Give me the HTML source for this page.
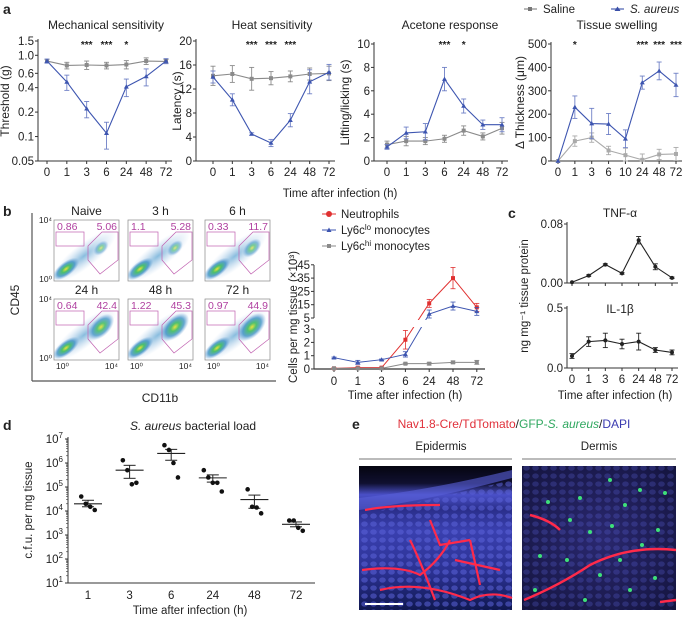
<!DOCTYPE html>
<html><head><meta charset="utf-8">
<style>
html,body{margin:0;padding:0;background:#fff;}
svg{display:block;font-family:"Liberation Sans",sans-serif;}
text{fill:#222;}
</style></head>
<body>
<svg id="fig" width="685" height="619" viewBox="0 0 685 619" xmlns="http://www.w3.org/2000/svg">
<defs>
 <radialGradient id="flow" cx="50%" cy="50%" r="50%">
  <stop offset="0" stop-color="#e8e23a"/><stop offset="0.3" stop-color="#4cc06a"/><stop offset="0.65" stop-color="#3a8fc4" stop-opacity="0.8"/><stop offset="1" stop-color="#6aa0d8" stop-opacity="0"/>
 </radialGradient>
 <radialGradient id="flowb" cx="50%" cy="50%" r="50%">
  <stop offset="0" stop-color="#3a90c8" stop-opacity="0.6"/><stop offset="1" stop-color="#8ab4e0" stop-opacity="0"/>
 </radialGradient>
 <linearGradient id="epi" x1="0" y1="0" x2="0" y2="1">
  <stop offset="0" stop-color="#050510"/><stop offset="0.12" stop-color="#101030"/><stop offset="0.2" stop-color="#4a50c8"/><stop offset="0.3" stop-color="#2a2e8a"/><stop offset="0.45" stop-color="#3a40b0"/><stop offset="0.75" stop-color="#2a3090"/><stop offset="1" stop-color="#101850"/>
 </linearGradient>
 <radialGradient id="derm" cx="50%" cy="50%" r="70%">
  <stop offset="0" stop-color="#2a2870"/><stop offset="1" stop-color="#14143e"/>
 </radialGradient>
 <pattern id="cells" width="9" height="8" patternUnits="userSpaceOnUse">
  <ellipse cx="4.5" cy="4" rx="3.3" ry="2.6" fill="#5a62d8" opacity="0.55"/>
 </pattern>
</defs>

<text x="3" y="14" font-size="14" font-weight="bold">a</text>
<text x="3" y="216" font-size="14" font-weight="bold">b</text>
<text x="508" y="218" font-size="14" font-weight="bold">c</text>
<text x="3" y="430" font-size="14" font-weight="bold">d</text>
<text x="352" y="429" font-size="14" font-weight="bold">e</text>

<g>
 <g><line x1="524" y1="9" x2="537" y2="9" stroke="#888" stroke-width="1.2"/><rect x="528" y="7" width="4" height="4" fill="#777"/><text x="543" y="13" font-size="11.5">Saline</text></g>
 <g><line x1="611" y1="9" x2="624" y2="9" stroke="#4a5fb0" stroke-width="1.2"/><polygon points="617.5,6.5 620.5,11 614.5,11" fill="#3a4fa8"/><text x="630" y="13" font-size="11.5" font-style="italic">S. aureus</text></g>
</g>
<text x="340" y="197" font-size="11.5" text-anchor="middle">Time  after infection (h)</text>

<g id="gA"></g>
<g id="gB"></g>
<g id="gC"></g>
<g id="gD"></g>
<g id="gE"></g>
</svg>

<script>
// ---------- DATA ----------
const aCats = ["0","1","3","6","24","48","72"];
const mechSaline = [0.85,0.75,0.76,0.75,0.77,0.85,0.84];
const mechSalineErr = [0.04,0.07,0.09,0.07,0.09,0.08,0.05];
const mechAureus = [0.85,0.47,0.22,0.11,0.41,0.55,0.85];
const mechAureusErr = [0.05,0.1,0.05,0.04,0.1,0.13,0.06];
const mechTicks = [0.05,0.1,0.2,0.4,0.6,1.0,1.5];
const mechTickLabels = ["0.05","0.1","0.2","0.4","0.6","1.0","1.5"];
const mechStars = ["","","***","***","*","",""];

const heatSaline = [14.2,14.5,13.7,13.8,14.1,14.5,14.6];
const heatSalineErr = [1.6,1.4,1.9,1.1,0.9,1.0,1.2];
const heatAureus = [14.0,10.2,4.5,3.0,6.8,13.2,14.8];
const heatAureusErr = [1.0,1.0,0.2,0.6,1.1,2.0,1.3];
const heatTicks = [0,4,8,12,16,20];
const heatStars = ["","","***","***","***","",""];

const aceSaline = [1.4,1.7,1.7,1.9,2.6,2.1,2.8];
const aceSalineErr = [0.3,0.4,0.3,0.3,0.4,0.3,0.5];
const aceAureus = [1.2,2.4,2.5,7.0,4.7,3.1,3.1];
const aceAureusErr = [0.2,0.5,0.7,1.0,0.6,0.4,0.6];
const aceTicks = [0,2,4,6,8,10];
const aceStars = ["","","","***","*","",""];

const swCats = ["0","1","3","6","10","24","48","72"];
const swSaline = [0,85,100,45,25,5,28,30];
const swSalineErr = [0,22,20,18,30,25,22,28];
const swAureus = [0,230,160,158,95,335,385,325];
const swAureusErr = [0,48,65,45,38,28,38,50];
const swTicks = [0,100,200,300,400,500];
const swStars = ["","*","","","","***","***","***"];

const bCats = ["0","1","3","6","24","48","72"];
const neutro = [0.05,0.1,0.1,2.2,16,35,13];
const neutroErr = [0.05,0.05,0.05,0.7,3,8,3];
const ly6lo = [0.85,0.5,0.7,1.1,8,14,10];
const ly6loErr = [0.05,0.15,0.05,0.2,3,3,3];
const ly6hi = [0.05,0.05,0.05,0.4,0.4,0.5,0.5];
const ly6hiErr = [0,0,0,0.05,0.1,0.1,0.15];
const bLowTicks = [0,1,2,3];
const bHighTicks = [5,15,25,35,45];
const flowTitles = ["Naive","3 h","6 h","24 h","48 h","72 h"];
const flowLeft = ["0.86","1.1","0.33","0.64","1.22","0.97"];
const flowRight = ["5.06","5.28","11.7","42.4","45.3","44.9"];

const cCats = ["0","1","3","6","24","48","72"];
const tnf = [0.001,0.01,0.025,0.013,0.058,0.022,0.007];
const tnfErr = [0,0.001,0.001,0.001,0.005,0.004,0.001];
const il1b = [0.1,0.22,0.23,0.2,0.22,0.15,0.13];
const il1bErr = [0.02,0.04,0.06,0.04,0.07,0.02,0.02];

const dCats = ["1","3","6","24","48","72"];
const dPoints = [[4e4,2e4,1.5e4,1.1e4],[1.3e6,5e5,1.3e5,1.5e5],[5.5e6,3.5e6,1e6,2.5e5],[5e5,2.5e5,1.5e5,1.5e5,6.5e4],[8e4,1.5e4,1.4e4,8e3],[4e3,4e3,2e3,1.5e3]];
const dMean = [2e4,5e5,2.5e6,2.4e5,3e4,2.8e3];
const dSemLo = [1.5e4,2.3e5,1.3e6,1.6e5,1.3e4,2.2e3];
const dSemHi = [2.8e4,8e5,3.7e6,3.2e5,4.6e4,3.5e3];
const dExp = [1,2,3,4,5,6,7];

// ---------- HELPERS ----------
const NS="http://www.w3.org/2000/svg";
function mk(tag, attrs, parent, txt){
  const e=document.createElementNS(NS,tag);
  for(const k in attrs) e.setAttribute(k,attrs[k]);
  if(txt!==undefined) e.textContent=txt;
  parent.appendChild(e); return e;
}
const SAL="#8a8a8a", AUR="#3d55b0";

function lineChart(g, o){
  const xs = i => o.x0 + (o.x1-o.x0)*i/(o.cats.length-1);
  const ax = mk('line',{x1:o.ax,y1:o.yTop-2,x2:o.ax,y2:o.yBot,stroke:'#333','stroke-width':1},g);
  
  
  const bx = mk('line',{x1:o.ax,y1:o.yBot,x2:o.x1+6,y2:o.yBot,stroke:'#333','stroke-width':1},g);
  
  
  o.ticks.forEach((t,i)=>{
    const y=o.yf(t);
    mk('line',{x1:o.ax-3,y1:y,x2:o.ax,y2:y,stroke:'#333'},g);
    const tl=mk('text',{x:o.ax-4,y:y+4,'font-size':o.fs||11.5,'text-anchor':'end'},g,o.tickLabels?o.tickLabels[i]:String(t));
    
    
  });
  o.cats.forEach((c,i)=>{
    const x=xs(i);
    mk('line',{x1:x,y1:o.yBot,x2:x,y2:o.yBot+3,stroke:'#333'},g);
    const tl=mk('text',{x:x,y:o.yBot+(o.tickDy||15),'font-size':o.fs||11.5,'text-anchor':'middle'},g,c);
    
    
  });
  o.series.forEach(s=>{
    const pts=s.v.map((v,i)=>xs(i)+','+o.yf(v)).join(' ');
    const pl=mk('polyline',{points:pts,fill:'none',stroke:s.c,'stroke-width':1.1},g);
    
    
    s.v.forEach((v,i)=>{
      const x=xs(i);
      if(s.e && s.e[i]>0){
        const y1=o.yf(v+s.e[i]), y2=o.yf(Math.max(v-s.e[i], o.minV||0));
        mk('line',{x1:x,y1:y1,x2:x,y2:y2,stroke:s.ec||s.c,'stroke-width':0.9},g);
        mk('line',{x1:x-2.5,y1:y1,x2:x+2.5,y2:y1,stroke:s.ec||s.c,'stroke-width':0.9},g);
        mk('line',{x1:x-2.5,y1:y2,x2:x+2.5,y2:y2,stroke:s.ec||s.c,'stroke-width':0.9},g);
      }
      const y=o.yf(v);
      let m;
      if(s.m==='tri') m=mk('polygon',{points:`${x},${y-2.5} ${x+2.5},${y+1.8} ${x-2.5},${y+1.8}`,fill:s.c},g);
      else if(s.m==='circ') m=mk('circle',{cx:x,cy:y,r:2,fill:s.c},g);
      else m=mk('rect',{x:x-2,y:y-2,width:4,height:4,fill:s.c},g);
      
      
    });
  });
  if(o.stars) o.stars.forEach((s,i)=>{ if(s){const t=mk('text',{x:xs(i),y:o.starY,'font-size':10,'text-anchor':'middle','font-weight':'bold'},g,s);
    
    }});
  if(o.title){const t=mk('text',{x:o.tx,y:o.ty||29,'font-size':12,'text-anchor':'middle'},g,o.title);
    
    }
  if(o.ylabel){const cy=(o.yTop+o.yBot)/2;const t=mk('text',{x:o.lx,y:cy,'font-size':o.lfs||12,'text-anchor':'middle',transform:`rotate(-90 ${o.lx} ${cy})`},g,o.ylabel);
    
    }
  return xs;
}

// ---------- PANEL A ----------
const gA=document.getElementById('gA');
const logY=(v)=>161-120*Math.log(v/0.05)/Math.log(1.5/0.05);
lineChart(gA,{name:'mechanical',x0:47,x1:166,yTop:41,yBot:161,ax:38,ticks:mechTicks,tickLabels:mechTickLabels,yf:logY,minV:0.05,
  cats:aCats,stars:mechStars,starY:48,title:'Mechanical sensitivity',tx:106,ylabel:'Threshold (g)',lx:9,
  series:[{n:'saline',v:mechSaline,e:mechSalineErr,c:SAL},{n:'aureus',v:mechAureus,e:mechAureusErr,c:AUR,m:'tri',ec:'#6f80c6'}]});
lineChart(gA,{name:'heat',x0:213,x1:329,yTop:41,yBot:161,ax:196,ticks:heatTicks,yf:v=>161-120*v/20,
  cats:aCats,stars:heatStars,starY:48,title:'Heat sensitivity',tx:272,ylabel:'Latency (s)',lx:181,
  series:[{n:'saline',v:heatSaline,e:heatSalineErr,c:SAL},{n:'aureus',v:heatAureus,e:heatAureusErr,c:AUR,m:'tri',ec:'#6f80c6'}]});
lineChart(gA,{name:'acetone',x0:387,x1:502,yTop:44,yBot:161,ax:374,ticks:aceTicks,yf:v=>161-117*v/10,
  cats:aCats,stars:aceStars,starY:48,title:'Acetone response',tx:450,ylabel:'Lifting/licking (s)',lx:349,
  series:[{n:'saline',v:aceSaline,e:aceSalineErr,c:SAL},{n:'aureus',v:aceAureus,e:aceAureusErr,c:AUR,m:'tri',ec:'#6f80c6'}]});
lineChart(gA,{name:'swelling',x0:558,x1:676,yTop:44,yBot:161,ax:551,ticks:swTicks,yf:v=>161-117*v/500,
  cats:swCats,stars:swStars,starY:48,title:'Tissue swelling',tx:617,ylabel:'Δ Thickness (μm)',lx:524,
  series:[{n:'saline',v:swSaline,e:swSalineErr,c:'#aaa'},{n:'aureus',v:swAureus,e:swAureusErr,c:AUR,m:'tri',ec:'#6f80c6'}]});

// ---------- PANEL B (flow) ----------
const gB=document.getElementById('gB');
mk('line',{x1:32,y1:213,x2:32,y2:381,stroke:'#555','stroke-width':1.2},gB);
mk('line',{x1:32,y1:381,x2:276,y2:381,stroke:'#555','stroke-width':1.2},gB);
mk('text',{x:19,y:300,'font-size':12,'text-anchor':'middle',transform:'rotate(-90 19 300)'},gB,'CD45');
mk('text',{x:160,y:402,'font-size':12,'text-anchor':'middle'},gB,'CD11b');
const fx=[54,128,205], fy=[220,299], fw=65, fh=61;
const spread=[0.25,0.3,0.45,0.85,0.95,0.95];
for(let k=0;k<6;k++){
  const c=k%3, r=Math.floor(k/3), x=fx[c], y=fy[r];
  const fg=mk('g',{},gB);
  
  
  mk('text',{x:x+fw/2,y:y-5,'font-size':12,'text-anchor':'middle'},fg,flowTitles[k]);
  mk('rect',{x:x,y:y,width:fw,height:fh,fill:'#fff',stroke:'#888','stroke-width':0.7},fg);
  const cp='cp'+k;
  const cl=mk('clipPath',{id:cp},fg); mk('rect',{x:x,y:y,width:fw,height:fh},cl);
  const inner=mk('g',{'clip-path':`url(#${cp})`},fg);
  const s=spread[k];
  mk('ellipse',{cx:x+30,cy:y+36,rx:40,ry:12,fill:'url(#flowb)',transform:`rotate(-38 ${x+30} ${y+36})`},inner);
  mk('ellipse',{cx:x+12,cy:y+fh-12,rx:16,ry:7,fill:'url(#flow)',transform:`rotate(-38 ${x+12} ${y+fh-12})`},inner);
  mk('ellipse',{cx:x+47,cy:y+28,rx:6+12*s,ry:4+6*s,fill:'url(#flow)','opacity':0.45+0.55*s,transform:`rotate(-45 ${x+47} ${y+28})`},inner);
  mk('rect',{x:x+2,y:y+12,width:28,height:14,fill:'none',stroke:'#c060b0','stroke-width':0.7},fg);
  mk('polygon',{points:`${x+34},${y+26} ${x+48},${y+12} ${x+64},${y+12} ${x+64},${y+40} ${x+46},${y+54} ${x+34},${y+40}`,fill:'none',stroke:'#c060b0','stroke-width':0.7},fg);
  mk('text',{x:x+3,y:y+10,'font-size':10.5,style:'fill:#b040a0'},fg,flowLeft[k]);
  mk('text',{x:x+fw-2,y:y+10,'font-size':10.5,'text-anchor':'end',style:'fill:#b040a0'},fg,flowRight[k]);
  if(c===0){
    mk('text',{x:x-2,y:y+3,'font-size':8.5,'text-anchor':'end'},fg,'10⁴');
    mk('text',{x:x-2,y:y+fh+1,'font-size':8.5,'text-anchor':'end'},fg,'10⁰');
  }
  if(r===1){
    mk('text',{x:x+2,y:y+fh+9,'font-size':8.5},fg,'10⁰');
    mk('text',{x:x+fw-1,y:y+fh+9,'font-size':8.5,'text-anchor':'end'},fg,'10⁴');
  }
}

// ---------- PANEL B (cells chart) ----------
function bY(v){ return v<=3 ? 369-13.3*v : (v<5 ? 329-(v-3)*5 : 318-(v-5)*1.33); }
const gB2=mk('g',{},gB);


const bxs=i=>334+23.8*i;
mk('line',{x1:314,y1:329,x2:314,y2:369,stroke:'#333'},gB2);
mk('line',{x1:314,y1:265,x2:314,y2:318,stroke:'#333'},gB2);
mk('line',{x1:314,y1:369,x2:485,y2:369,stroke:'#333','stroke-width':1.2},gB2);
bLowTicks.forEach(t=>{const y=bY(t);mk('line',{x1:311,y1:y,x2:314,y2:y,stroke:'#333'},gB2);
  const tl=mk('text',{x:310,y:y+4,'font-size':11.5,'text-anchor':'end'},gB2,String(t));
  
  });
bHighTicks.forEach(t=>{const y=bY(t);mk('line',{x1:311,y1:y,x2:314,y2:y,stroke:'#333'},gB2);
  const tl=mk('text',{x:310,y:y+4,'font-size':11.5,'text-anchor':'end'},gB2,String(t));
  
  });
bCats.forEach((c,i)=>{const x=bxs(i);mk('line',{x1:x,y1:369,x2:x,y2:372,stroke:'#333'},gB2);
  const tl=mk('text',{x:x,y:385,'font-size':11.5,'text-anchor':'middle'},gB2,c);
  
  });
mk('text',{x:297,y:317,'font-size':11.5,'text-anchor':'middle',transform:'rotate(-90 297 317)'},gB2,'Cells per mg tissue (×10³)');
mk('text',{x:405,y:399,'font-size':11.5,'text-anchor':'middle'},gB2,'Time after infection (h)');
const bSeries=[{n:'neutrophils',v:neutro,e:neutroErr,c:'#e03030',m:'sq'},{n:'ly6c-lo',v:ly6lo,e:ly6loErr,c:'#3d55b0',m:'tri'},{n:'ly6c-hi',v:ly6hi,e:ly6hiErr,c:'#8a8a8a',m:'sq'}];
bSeries.forEach(s=>{
  const pl=mk('polyline',{points:s.v.map((v,i)=>bxs(i)+','+bY(v)).join(' '),fill:'none',stroke:s.c,'stroke-width':1},gB2);
  
  
  s.v.forEach((v,i)=>{const x=bxs(i),y=bY(v);
    if(s.e[i]>0.04){const y1=bY(v+s.e[i]),y2=bY(Math.max(0,v-s.e[i]));
      mk('line',{x1:x,y1:y1,x2:x,y2:y2,stroke:s.c,'stroke-width':0.8},gB2);
      mk('line',{x1:x-2.5,y1:y1,x2:x+2.5,y2:y1,stroke:s.c,'stroke-width':0.8},gB2);
      mk('line',{x1:x-2.5,y1:y2,x2:x+2.5,y2:y2,stroke:s.c,'stroke-width':0.8},gB2);}
    const m = s.m==='tri'? mk('polygon',{points:`${x},${y-2.5} ${x+2.5},${y+1.8} ${x-2.5},${y+1.8}`,fill:s.c},gB2) : mk('rect',{x:x-2,y:y-2,width:4,height:4,fill:s.c},gB2);
    
    
  });
});
mk('rect',{x:315,y:320,width:170,height:7,fill:'#fff'},gB2);
const bLeg=[["Neutrophils","#e03030","circ"],["Ly6c","#3d55b0","tri","lo"],["Ly6c","#8a8a8a","sq","hi"]];
bLeg.forEach((l,i)=>{const y=214+16*i;
  const lg=mk('g',{},gB2);
  
  
  mk('line',{x1:322,y1:y,x2:336,y2:y,stroke:l[1]},lg);
  if(l[2]==='circ') mk('circle',{cx:329,cy:y,r:3,fill:l[1]},lg);
  else if(l[2]==='tri') mk('polygon',{points:`329,${y-2.5} 331.5,${y+2} 326.5,${y+2}`,fill:l[1]},lg);
  else mk('rect',{x:327,y:y-2,width:4,height:4,fill:l[1]},lg);
  const t=mk('text',{x:341,y:y+4,'font-size':11.5},lg,l[0]);
  if(l[3]){mk('tspan',{dy:-4,'font-size':8},t,l[3]);mk('tspan',{dy:4,'font-size':11.5},t,' monocytes');}
});

// ---------- PANEL C ----------
const gC=document.getElementById('gC');
lineChart(gC,{name:'tnf',x0:572,x1:672,yTop:224,yBot:283,ax:567,ticks:[0,0.08],tickLabels:['0.00','0.08'],yf:v=>283-59*v/0.08,
  cats:cCats,tickDy:-1000,title:'TNF-α',tx:620,ty:217,fs:11.5,
  series:[{n:'tnf',v:tnf,e:tnfErr,c:'#222',m:'circ'}]});
lineChart(gC,{name:'il1b',x0:572,x1:672,yTop:308,yBot:368,ax:567,ticks:[0,0.5],tickLabels:['0.0','0.5'],yf:v=>368-60*v/0.5,
  cats:cCats,title:'IL-1β',tx:620,ty:313,fs:11.5,tickDy:15,
  series:[{n:'il1b',v:il1b,e:il1bErr,c:'#222',m:'circ'}]});
mk('text',{x:528,y:296,'font-size':11.5,'text-anchor':'middle',transform:'rotate(-90 528 296)'},gC,'ng mg⁻¹ tissue protein');
mk('text',{x:615,y:399,'font-size':11.5,'text-anchor':'middle'},gC,'Time after infection (h)');

// ---------- PANEL D ----------
const gD=document.getElementById('gD');
const dY=v=>583-144*(Math.log10(v)-1)/6;
const dxs=i=>88+41.6*i;
mk('line',{x1:68,y1:437,x2:68,y2:583,stroke:'#333'},gD);
mk('line',{x1:68,y1:583,x2:315,y2:583,stroke:'#333'},gD);
dExp.forEach(e=>{const y=dY(Math.pow(10,e));mk('line',{x1:65,y1:y,x2:68,y2:y,stroke:'#333'},gD);
  const t=mk('text',{x:63,y:y+4,'font-size':11.5,'text-anchor':'end'},gD,'10');
  mk('tspan',{dy:-5,'font-size':8},t,String(e));
  
  
  if(e<7) for(let m=2;m<10;m++){const yy=dY(m*Math.pow(10,e));mk('line',{x1:66,y1:yy,x2:68,y2:yy,stroke:'#333','stroke-width':0.6},gD);}
});
dCats.forEach((c,i)=>{const x=dxs(i);
  const t=mk('text',{x:x,y:599,'font-size':11.5,'text-anchor':'middle'},gD,c);
  
  
  const m=dY(dMean[i]);
  mk('line',{x1:x-14,y1:m,x2:x+14,y2:m,stroke:'#222','stroke-width':1.1},gD);
  const h=dY(dSemHi[i]),l=dY(dSemLo[i]);
  mk('line',{x1:x,y1:h,x2:x,y2:l,stroke:'#222'},gD);
  mk('line',{x1:x-6,y1:h,x2:x+6,y2:h,stroke:'#222'},gD);
  mk('line',{x1:x-6,y1:l,x2:x+6,y2:l,stroke:'#222'},gD);
  const n=dPoints[i].length;
  dPoints[i].forEach((v,j)=>{const off=(j-(n-1)/2)*4.5;
    const p=mk('circle',{cx:x+off,cy:dY(v),r:2.3,fill:'#111'},gD);
    
    });
});
const dt=mk('text',{x:193,y:430,'font-size':12,'text-anchor':'middle'},gD);
mk('tspan',{'font-style':'italic'},dt,'S. aureus');mk('tspan',{},dt,' bacterial load');
mk('text',{x:32,y:510,'font-size':11.5,'text-anchor':'middle',transform:'rotate(-90 32 510)'},gD,'c.f.u. per mg tissue');
mk('text',{x:190,y:614,'font-size':11.5,'text-anchor':'middle'},gD,'Time after infection (h)');

// ---------- PANEL E ----------
const gE=document.getElementById('gE');
const et=mk('text',{x:514,y:428,'font-size':12,'text-anchor':'middle'},gE);


mk('tspan',{style:'fill:#e0303a'},et,'Nav1.8-Cre/TdTomato');
mk('tspan',{},et,'/');
mk('tspan',{style:'fill:#30a860'},et,'GFP-');
mk('tspan',{style:'fill:#30a860','font-style':'italic'},et,'S. aureus');
mk('tspan',{},et,'/');
mk('tspan',{style:'fill:#3a3ab0'},et,'DAPI');
mk('text',{x:441,y:450,'font-size':11.5,'text-anchor':'middle'},gE,'Epidermis');
mk('text',{x:599,y:450,'font-size':11.5,'text-anchor':'middle'},gE,'Dermis');
mk('line',{x1:359,y1:459,x2:512,y2:459,stroke:'#777'},gE);
mk('line',{x1:522,y1:459,x2:676,y2:459,stroke:'#777'},gE);
const ep=mk('g',{},gE);


mk('rect',{x:359,y:466,width:153,height:144,fill:'url(#epi)'},ep);
mk('path',{d:'M359,515 Q430,500 512,480 L512,610 L359,610 Z',fill:'url(#cells)'},ep);
mk('path',{d:'M359,498 Q430,490 512,470 L512,478 Q430,500 359,510 Z',fill:'#5a60d8',opacity:0.6},ep);
mk('path',{d:'M362,570 Q400,565 420,575 Q440,560 450,540 M410,540 Q420,560 435,600 M380,590 Q420,580 470,600 Q490,590 512,598 M430,520 L440,545 L470,540 M470,540 L480,585 M365,510 Q390,505 440,505 M455,560 L500,570',stroke:'#ff2a4a','stroke-width':2.2,fill:'none'},ep);
mk('line',{x1:365,y1:604,x2:403,y2:604,stroke:'#fff','stroke-width':2},ep);
const de=mk('g',{},gE);


mk('rect',{x:522,y:466,width:154,height:144,fill:'url(#derm)'},de);
mk('rect',{x:522,y:466,width:154,height:144,fill:'url(#cells)',opacity:0.5},de);
mk('path',{d:'M524,600 Q560,585 590,565 Q630,545 676,550 M530,515 Q550,520 560,530 M660,602 L676,600',stroke:'#ff2a4a','stroke-width':2.5,fill:'none'},de);
const gpts=[[548,502],[580,498],[610,480],[640,490],[665,493],[540,556],[567,560],[590,532],[612,526],[642,545],[570,520],[600,575],[630,590],[655,578],[535,590],[620,560],[658,530],[585,600],[625,505]];
gpts.forEach(p=>mk('circle',{cx:p[0],cy:p[1],r:2,fill:'#3ee07a'},de));
</script>
</body></html>
